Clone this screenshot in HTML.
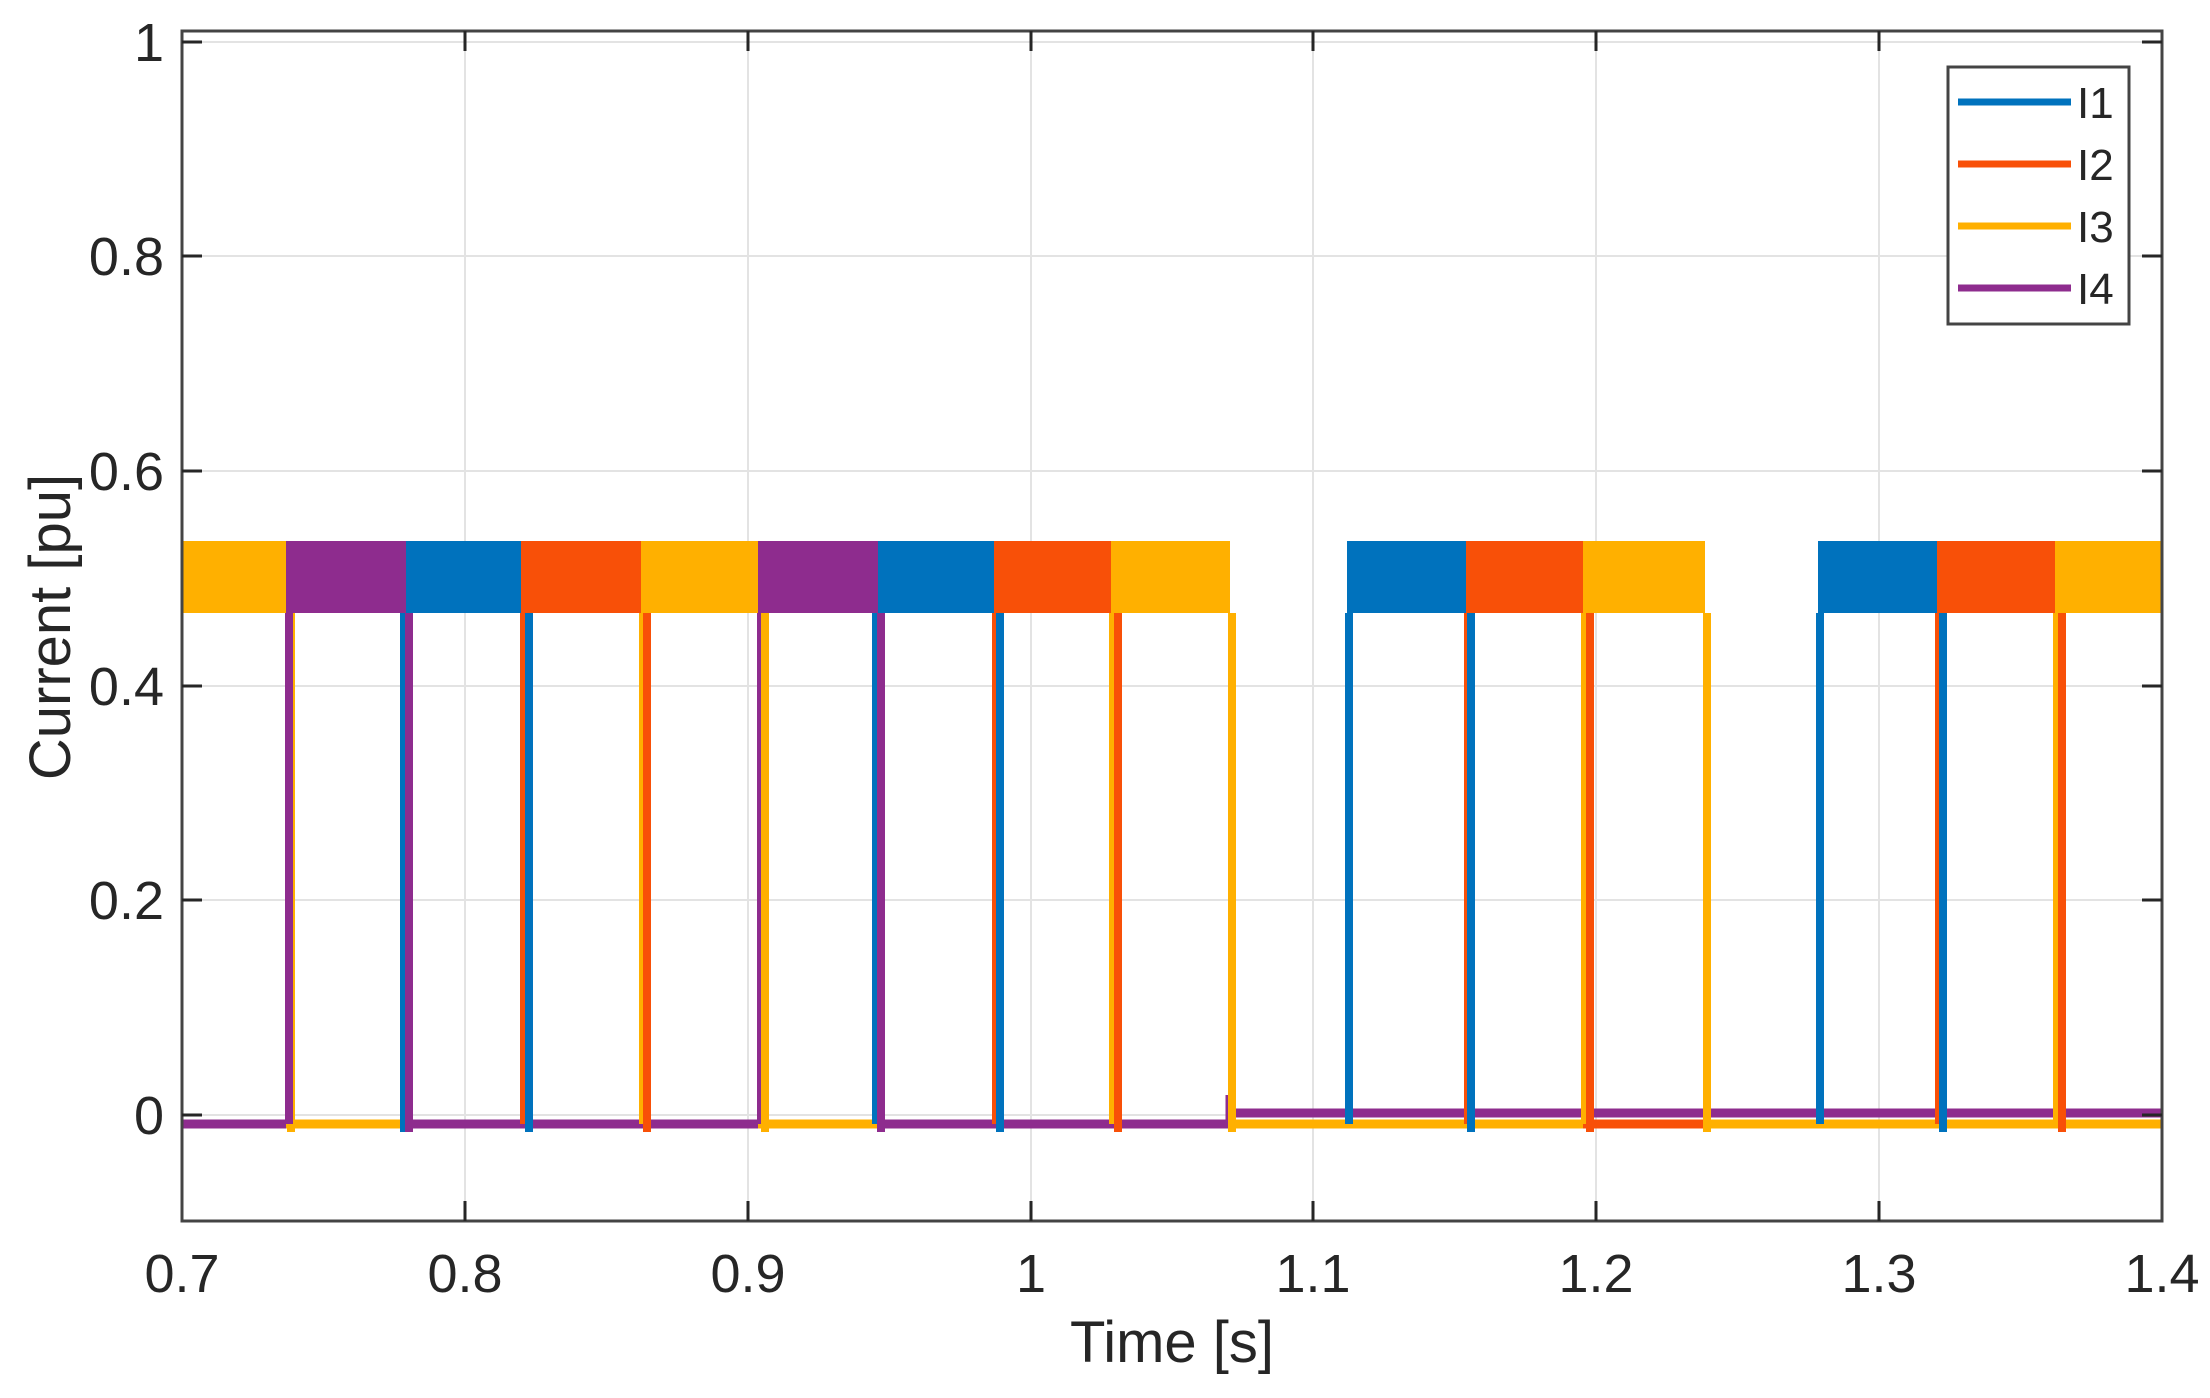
<!DOCTYPE html>
<html><head><meta charset="utf-8"><style>
html,body{margin:0;padding:0;background:#fff;}
svg{display:block;}
text{font-family:"Liberation Sans",sans-serif;fill:#262626;}
</style></head><body>
<svg width="2210" height="1398" viewBox="0 0 2210 1398" xmlns="http://www.w3.org/2000/svg">
<rect width="2210" height="1398" fill="#fff"/>
<g stroke="#e3e3e3" stroke-width="2">
<line x1="465" y1="31" x2="465" y2="1221"/><line x1="748" y1="31" x2="748" y2="1221"/>
<line x1="1031" y1="31" x2="1031" y2="1221"/><line x1="1313" y1="31" x2="1313" y2="1221"/>
<line x1="1596" y1="31" x2="1596" y2="1221"/><line x1="1879" y1="31" x2="1879" y2="1221"/>
<line x1="182" y1="42" x2="2162" y2="42"/><line x1="182" y1="256" x2="2162" y2="256"/>
<line x1="182" y1="471" x2="2162" y2="471"/><line x1="182" y1="686" x2="2162" y2="686"/>
<line x1="182" y1="900" x2="2162" y2="900"/><line x1="182" y1="1115" x2="2162" y2="1115"/>
</g>
<g stroke-width="9" fill="none">
<line x1="182" y1="1124" x2="1230" y2="1124" stroke="#8E2C8E"/>
<line x1="286" y1="1124" x2="406" y2="1124" stroke="#FFB000"/>
<line x1="758" y1="1124" x2="878" y2="1124" stroke="#FFB000"/>
<line x1="1230" y1="1124" x2="2162" y2="1124" stroke="#FFB000"/>
<line x1="1583" y1="1124" x2="1705" y2="1124" stroke="#F85008"/>
<line x1="1230" y1="1113" x2="2162" y2="1113" stroke="#8E2C8E"/>
<line x1="1230" y1="1095" x2="1230" y2="1120" stroke="#8E2C8E"/>
</g>
<g>
<rect x="182" y="541" width="104" height="72" fill="#FFB000"/>
<rect x="286" y="541" width="120" height="72" fill="#8E2C8E"/>
<rect x="406" y="541" width="116" height="72" fill="#0072BD"/>
<rect x="521" y="541" width="120" height="72" fill="#F85008"/>
<rect x="641" y="541" width="117" height="72" fill="#FFB000"/>
<rect x="758" y="541" width="120" height="72" fill="#8E2C8E"/>
<rect x="878" y="541" width="116" height="72" fill="#0072BD"/>
<rect x="994" y="541" width="117" height="72" fill="#F85008"/>
<rect x="1111" y="541" width="119" height="72" fill="#FFB000"/>
<rect x="1347" y="541" width="119" height="72" fill="#0072BD"/>
<rect x="1466" y="541" width="117" height="72" fill="#F85008"/>
<rect x="1583" y="541" width="122" height="72" fill="#FFB000"/>
<rect x="1818" y="541" width="119" height="72" fill="#0072BD"/>
<rect x="1937" y="541" width="118" height="72" fill="#F85008"/>
<rect x="2055" y="541" width="107" height="72" fill="#FFB000"/>
</g>
<g stroke-width="8">
<line x1="291" y1="613" x2="291" y2="1132" stroke="#FFB000"/>
<line x1="289" y1="613" x2="289" y2="1124" stroke="#8E2C8E"/>
<line x1="404" y1="613" x2="404" y2="1132" stroke="#0072BD"/>
<line x1="409" y1="613" x2="409" y2="1132" stroke="#8E2C8E"/>
<line x1="524" y1="613" x2="524" y2="1124" stroke="#F85008"/>
<line x1="529" y1="613" x2="529" y2="1132" stroke="#0072BD"/>
<line x1="643" y1="613" x2="643" y2="1124" stroke="#FFB000"/>
<line x1="647" y1="613" x2="647" y2="1132" stroke="#F85008"/>
<line x1="761" y1="613" x2="761" y2="1124" stroke="#8E2C8E"/>
<line x1="765" y1="613" x2="765" y2="1132" stroke="#FFB000"/>
<line x1="876" y1="613" x2="876" y2="1124" stroke="#0072BD"/>
<line x1="881" y1="613" x2="881" y2="1132" stroke="#8E2C8E"/>
<line x1="996" y1="613" x2="996" y2="1124" stroke="#F85008"/>
<line x1="1000" y1="613" x2="1000" y2="1132" stroke="#0072BD"/>
<line x1="1113" y1="613" x2="1113" y2="1124" stroke="#FFB000"/>
<line x1="1118" y1="613" x2="1118" y2="1132" stroke="#F85008"/>
<line x1="1232" y1="613" x2="1232" y2="1132" stroke="#FFB000"/>
<line x1="1349" y1="613" x2="1349" y2="1124" stroke="#0072BD"/>
<line x1="1468" y1="613" x2="1468" y2="1124" stroke="#F85008"/>
<line x1="1471" y1="613" x2="1471" y2="1132" stroke="#0072BD"/>
<line x1="1585" y1="613" x2="1585" y2="1124" stroke="#FFB000"/>
<line x1="1590" y1="613" x2="1590" y2="1132" stroke="#F85008"/>
<line x1="1707" y1="613" x2="1707" y2="1132" stroke="#FFB000"/>
<line x1="1820" y1="613" x2="1820" y2="1124" stroke="#0072BD"/>
<line x1="1939" y1="613" x2="1939" y2="1124" stroke="#F85008"/>
<line x1="1943" y1="613" x2="1943" y2="1132" stroke="#0072BD"/>
<line x1="2057" y1="613" x2="2057" y2="1124" stroke="#FFB000"/>
<line x1="2062" y1="613" x2="2062" y2="1132" stroke="#F85008"/>
</g>
<rect x="182" y="31" width="1980" height="1190" fill="none" stroke="#444" stroke-width="3"/>
<g stroke="#262626" stroke-width="3">
<line x1="465" y1="31" x2="465" y2="51"/><line x1="748" y1="31" x2="748" y2="51"/><line x1="1031" y1="31" x2="1031" y2="51"/>
<line x1="1313" y1="31" x2="1313" y2="51"/><line x1="1596" y1="31" x2="1596" y2="51"/><line x1="1879" y1="31" x2="1879" y2="51"/>
<line x1="465" y1="1221" x2="465" y2="1201"/><line x1="748" y1="1221" x2="748" y2="1201"/><line x1="1031" y1="1221" x2="1031" y2="1201"/>
<line x1="1313" y1="1221" x2="1313" y2="1201"/><line x1="1596" y1="1221" x2="1596" y2="1201"/><line x1="1879" y1="1221" x2="1879" y2="1201"/>
<line x1="182" y1="42" x2="202" y2="42"/><line x1="182" y1="256" x2="202" y2="256"/><line x1="182" y1="471" x2="202" y2="471"/>
<line x1="182" y1="686" x2="202" y2="686"/><line x1="182" y1="900" x2="202" y2="900"/><line x1="182" y1="1115" x2="202" y2="1115"/>
<line x1="2162" y1="42" x2="2142" y2="42"/><line x1="2162" y1="256" x2="2142" y2="256"/><line x1="2162" y1="471" x2="2142" y2="471"/>
<line x1="2162" y1="686" x2="2142" y2="686"/><line x1="2162" y1="900" x2="2142" y2="900"/><line x1="2162" y1="1115" x2="2142" y2="1115"/>
</g>
<g font-size="54" text-anchor="end">
<text x="164" y="61">1</text><text x="164" y="275">0.8</text><text x="164" y="490">0.6</text>
<text x="164" y="705">0.4</text><text x="164" y="919">0.2</text><text x="164" y="1134">0</text>
</g>
<g font-size="54" text-anchor="middle">
<text x="182" y="1292">0.7</text><text x="465" y="1292">0.8</text><text x="748" y="1292">0.9</text>
<text x="1031" y="1292">1</text><text x="1313" y="1292">1.1</text><text x="1596" y="1292">1.2</text>
<text x="1879" y="1292">1.3</text><text x="2162" y="1292">1.4</text>
</g>
<text x="1172" y="1362" font-size="58" text-anchor="middle">Time [s]</text>
<text transform="translate(70,627) rotate(-90)" font-size="58" text-anchor="middle">Current [pu]</text>
<rect x="1948" y="67" width="181" height="257" fill="#fff" stroke="#444" stroke-width="3"/>
<g stroke-width="7">
<line x1="1958" y1="102" x2="2071" y2="102" stroke="#0072BD"/>
<line x1="1958" y1="164" x2="2071" y2="164" stroke="#F85008"/>
<line x1="1958" y1="226" x2="2071" y2="226" stroke="#FFB000"/>
<line x1="1958" y1="288" x2="2071" y2="288" stroke="#8E2C8E"/>
</g>
<g font-size="44">
<text x="2077" y="118">I1</text><text x="2077" y="180">I2</text>
<text x="2077" y="242">I3</text><text x="2077" y="304">I4</text>
</g>
</svg>
</body></html>
